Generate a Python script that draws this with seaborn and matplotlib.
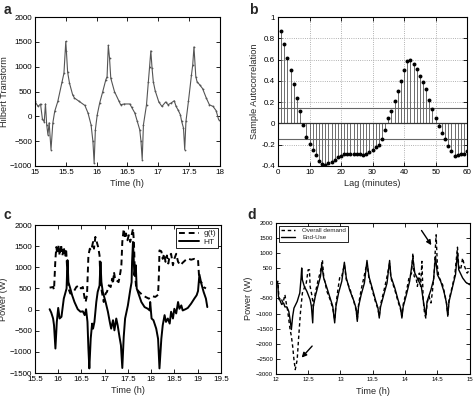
"""
Four-panel figure: Hilbert transform, autocorrelation, HT vs g(t), end-use vs overall demand.
"""

import matplotlib

matplotlib.use("Agg")
import matplotlib.pyplot as plt
import numpy as np
import seaborn as sns

# ---- panel a: Hilbert transform ----
a_time = [15.00, 15.05, 15.09, 15.12, 15.15, 15.17, 15.19, 15.21, 15.23, 15.26,
          15.29, 15.32, 15.37, 15.44, 15.47, 15.50, 15.51, 15.53, 15.56, 15.61,
          15.64, 15.72, 15.81, 15.86, 15.91, 15.94, 15.96, 15.98, 16.01, 16.05,
          16.10, 16.15, 16.17, 16.19, 16.21, 16.23, 16.29, 16.36, 16.39, 16.45,
          16.54, 16.57, 16.62, 16.66, 16.70, 16.72, 16.74, 16.76, 16.81, 16.84,
          16.86, 16.88, 16.90, 16.92, 16.95, 17.01, 17.06, 17.12, 17.16, 17.21,
          17.26, 17.29, 17.32, 17.36, 17.38, 17.41, 17.43, 17.45, 17.49, 17.54,
          17.56, 17.58, 17.61, 17.63, 17.67, 17.72, 17.78, 17.83, 17.89, 17.94,
          17.98]
a_hilbert = [300, 200, 250, -50, -110, 250, -170, -370, -130, -670,
             -130, 100, 300, 700, 870, 1510, 1310, 890, 670, 440,
             370, 300, 220, 70, -170, -500, -940, -270, 30, 270,
             500, 740, 800, 1430, 1170, 770, 500, 315, 235, 250,
             250, 180, 70, -100, -270, -500, -870, -170, 235, 700,
             1000, 1320, 970, 700, 520, 290, 200, 290, 235, 270,
             315, 200, 135, 30, -100, -235, -670, -100, 300, 840,
             1040, 1400, 800, 700, 640, 560, 370, 235, 200, 115,
             -65]

# ---- panel b: sample autocorrelation ----
b_lag = list(range(1, 61))
b_acf = [0.87, 0.75, 0.62, 0.50, 0.37, 0.24, 0.12, -0.01, -0.13, -0.19,
         -0.25, -0.30, -0.35, -0.385, -0.395, -0.37, -0.36, -0.34, -0.32, -0.31,
         -0.29, -0.29, -0.29, -0.29, -0.29, -0.29, -0.30, -0.285, -0.27, -0.25,
         -0.22, -0.20, -0.15, -0.065, 0.05, 0.12, 0.21, 0.31, 0.40, 0.50,
         0.59, 0.60, 0.555, 0.51, 0.45, 0.39, 0.32, 0.225, 0.14, 0.055,
         -0.02, -0.09, -0.15, -0.21, -0.26, -0.31, -0.295, -0.29, -0.285, -0.26]
b_bound = 0.147

# ---- panel c: g(t) and HT ----
c_ht_time = [15.815, 15.85, 15.89, 15.91, 15.94, 15.97, 16.00, 16.03, 16.07, 16.12,
             16.15, 16.18, 16.20, 16.22, 16.26, 16.30, 16.35, 16.42, 16.48, 16.53,
             16.57, 16.60, 16.63, 16.65, 16.67, 16.70, 16.73, 16.75, 16.78, 16.82,
             16.85, 16.89, 16.91, 16.93, 16.96, 17.02, 17.07, 17.11, 17.14, 17.18,
             17.21, 17.25, 17.28, 17.32, 17.35, 17.38, 17.41, 17.44, 17.50, 17.55,
             17.58, 17.59, 17.61, 17.64, 17.67, 17.69, 17.74, 17.79, 17.86, 17.93,
             17.97, 17.98, 18.01, 18.05, 18.11, 18.15, 18.18, 18.22, 18.25, 18.29,
             18.32, 18.36, 18.40, 18.43, 18.47, 18.50, 18.54, 18.58, 18.61, 18.65,
             18.68, 18.74, 18.79, 18.86, 18.93, 18.98, 19.01, 19.04, 19.08, 19.13,
             19.18, 19.21]
c_ht = [10, -70, -210, -370, -920, -290, 40, -210, -170, 260,
        380, 500, 1170, 650, 500, 340, 180, 10, -50, -40,
        -130, 10, -290, -920, -1390, -680, -330, -450, -290, 180,
        420, 570, 1130, 650, 420, 180, -50, -290, -450, -250,
        -490, -210, -370, -650, -840, -1380, -650, -210, 100, 460,
        650, 1130, 1600, 810, 1050, 500, 340, 180, 60, 20,
        -20, 180, -210, -250, -450, -690, -1390, -690, -370, -130,
        -290, -210, -330, -50, -210, 20, -90, 180, 20, 100,
        -20, 10, 40, 140, 260, 340, 440, 830, 620, 420,
        260, 60]

c_g_time = [15.815, 15.89, 15.91, 15.94, 15.96, 15.98, 16.01, 16.03, 16.06, 16.09,
            16.12, 16.15, 16.17, 16.20, 16.22, 16.26, 16.32, 16.39, 16.45, 16.49,
            16.53, 16.57, 16.59, 16.62, 16.65, 16.68, 16.71, 16.75, 16.77, 16.80,
            16.83, 16.86, 16.89, 16.91, 16.94, 16.98, 17.02, 17.05, 17.09, 17.13,
            17.16, 17.18, 17.20, 17.23, 17.26, 17.30, 17.34, 17.36, 17.38, 17.41,
            17.44, 17.46, 17.49, 17.52, 17.55, 17.58, 17.61, 17.63, 17.65, 17.68,
            17.74, 17.81, 17.88, 17.95, 18.02, 18.09, 18.15, 18.17, 18.18, 18.22,
            18.25, 18.28, 18.31, 18.34, 18.37, 18.40, 18.43, 18.47, 18.50, 18.54,
            18.58, 18.63, 18.68, 18.74, 18.79, 18.86, 18.93, 19.01, 19.04, 19.08,
            19.13, 19.18]
c_g = [520, 535, 470, 1200, 1480, 1320, 1520, 1280, 1540, 1280,
       1480, 1240, 1440, 810, 500, 380, 400, 535, 575, 500,
       535, 260, 180, 340, 1280, 1440, 1400, 1600, 1440, 1720,
       1600, 1480, 1280, 650, 420, 180, 380, 420, 575, 535,
       730, 610, 890, 690, 690, 650, 890, 1050, 1600, 1910,
       1680, 1800, 1640, 1760, 1600, 1760, 1910, 1600, 890, 500,
       420, 350, 300, 260, 320, 300, 350, 890, 1400, 1380,
       1200, 1320, 1130, 1280, 1090, 1280, 1320, 1050, 1200, 1320,
       1130, 1050, 1110, 1170, 1210, 1180, 1200, 1180, 650, 650,
       535, 500]

# ---- panel d: overall demand and end-use ----
d_end_time = [12.00, 12.03, 12.04, 12.07, 12.09, 12.12, 12.14, 12.17, 12.20, 12.22,
              12.24, 12.26, 12.28, 12.33, 12.37, 12.39, 12.40, 12.41, 12.44, 12.48,
              12.53, 12.55, 12.57, 12.58, 12.61, 12.65, 12.69, 12.71, 12.74, 12.79,
              12.84, 12.88, 12.91, 12.93, 12.97, 13.02, 13.06, 13.09, 13.14, 13.21,
              13.24, 13.26, 13.28, 13.32, 13.37, 13.41, 13.44, 13.49, 13.54, 13.58,
              13.60, 13.62, 13.67, 13.72, 13.76, 13.78, 13.84, 13.89, 13.93, 13.95,
              13.97, 14.02, 14.07, 14.12, 14.15, 14.20, 14.25, 14.29, 14.32, 14.34,
              14.40, 14.44, 14.47, 14.50, 14.55, 14.60, 14.64, 14.66, 14.68, 14.73,
              14.78, 14.81, 14.83, 14.89, 14.94, 15.00]
d_end_use = [70, 10, -430, -600, -700, -650, -780, -780, -930, -1200,
             -1530, -1090, -820, -600, -320, 180, 510, 120, -100, -265,
             -540, -760, -1310, -760, -430, -100, 230, 620, 180, -150,
             -490, -760, -1310, -760, -320, 70, 700, 180, -210, -600,
             -820, -1260, -760, -375, 10, 760, 230, -150, -540, -820,
             -1150, -780, -375, 10, 760, 230, -150, -540, -820, -1150,
             -780, -375, 70, 840, 340, 120, -100, -700, -1090, -600,
             -210, 120, 900, 290, 70, -265, -650, -1090, -600, -150,
             290, 1030, 450, 180, 35, -45]

d_all_time = [12.00, 12.03, 12.05, 12.08, 12.11, 12.14, 12.16, 12.18, 12.20, 12.22,
              12.24, 12.26, 12.28, 12.30, 12.33, 12.35, 12.38, 12.41, 12.44, 12.47,
              12.50, 12.52, 12.53, 12.56, 12.58, 12.61, 12.65, 12.69, 12.72, 12.74,
              12.79, 12.84, 12.88, 12.91, 12.93, 12.96, 12.99, 13.02, 13.06, 13.09,
              13.15, 13.21, 13.24, 13.26, 13.28, 13.32, 13.36, 13.41, 13.44, 13.49,
              13.54, 13.58, 13.60, 13.62, 13.67, 13.71, 13.76, 13.78, 13.84, 13.89,
              13.93, 13.95, 13.97, 14.02, 14.06, 14.10, 14.12, 14.14, 14.17, 14.19,
              14.22, 14.24, 14.26, 14.28, 14.30, 14.32, 14.34, 14.37, 14.40, 14.42,
              14.45, 14.47, 14.48, 14.50, 14.52, 14.58, 14.61, 14.64, 14.66, 14.68,
              14.73, 14.77, 14.81, 14.83, 14.86, 14.89, 14.92, 14.96, 15.00]
d_overall = [10, 70, -540, -490, -650, -375, -650, -870, -1200, -1530,
             -1750, -2090, -2530, -2860, -2530, -1870, -980, -320, -150, 10,
             450, 450, -100, -430, -760, -320, 70, 400, 780, 230,
             -265, -540, -820, -1200, -700, -210, 230, 230, 620, 120,
             -210, -630, -870, -1200, -700, -210, 180, 670, 180, -210,
             -600, -850, -1090, -700, -265, 120, 670, 180, -210, -600,
             -870, -1090, -700, -265, 180, 340, 1000, 230, 180, -100,
             340, -100, 730, -540, -980, -1150, -650, -430, -650, -320,
             340, 1230, 1610, 560, 230, -45, -320, -650, -1040, -540,
             -100, 290, 1200, 560, 450, 840, 560, 340, 450]

# ---- style ----
sns.set_style("ticks")
plt.rcParams["font.family"] = ["Liberation Sans", "DejaVu Sans"]
plt.rcParams.update({
    "xtick.direction": "in",
    "ytick.direction": "in",
    "xtick.top": True,
    "ytick.right": True,
    "xtick.major.size": 3,
    "ytick.major.size": 3,
    "xtick.major.width": 0.6,
    "ytick.major.width": 0.6,
    "axes.linewidth": 0.8,
    "axes.edgecolor": "black",
    "xtick.color": "black",
    "ytick.color": "black",
})

fig = plt.figure(figsize=(4.74, 3.99), dpi=100)
ax_a = fig.add_axes([0.0738, 0.584, 0.390, 0.373])
ax_b = fig.add_axes([0.5865, 0.584, 0.399, 0.373])
ax_c = fig.add_axes([0.0738, 0.065, 0.392, 0.371])
ax_d = fig.add_axes([0.582, 0.063, 0.409, 0.378])

LABEL = 6.6
TICK = 5.8

# a
sns.lineplot(x=a_time, y=a_hilbert, ax=ax_a, color="#555555", linewidth=0.8,
             sort=False, marker="o", markersize=1.3, markeredgewidth=0)
ax_a.set_xlim(15, 18)
ax_a.set_ylim(-1000, 2000)
ax_a.set_xticks([15, 15.5, 16, 16.5, 17, 17.5, 18])
ax_a.set_xticklabels(["15", "15.5", "16", "16.5", "17", "17.5", "18"])
ax_a.set_yticks(range(-1000, 2001, 500))
ax_a.set_xlabel("Time (h)", fontsize=LABEL, labelpad=2)
ax_a.set_ylabel("Hilbert Transform", fontsize=LABEL, labelpad=1)

# b
ax_b.vlines(b_lag, 0, b_acf, color="#555555", linewidth=0.6)
sns.scatterplot(x=b_lag, y=b_acf, ax=ax_b, color="black", s=8, linewidth=0, zorder=3)
ax_b.axhline(0, color="#333333", linewidth=0.9)
ax_b.axhline(b_bound, color="#666666", linewidth=0.8)
ax_b.axhline(-b_bound, color="#666666", linewidth=0.8)
ax_b.set_xlim(0, 60)
ax_b.set_ylim(-0.4, 1)
ax_b.set_xticks(range(0, 61, 10))
ax_b.set_yticks([-0.4, -0.2, 0, 0.2, 0.4, 0.6, 0.8, 1])
ax_b.set_yticklabels(["-0.4", "-0.2", "0", "0.2", "0.4", "0.6", "0.8", "1"])
ax_b.grid(True, linestyle=":", color="#999999", linewidth=0.6)
ax_b.set_axisbelow(True)
ax_b.set_xlabel("Lag (minutes)", fontsize=LABEL, labelpad=2)
ax_b.set_ylabel("Sample Autocorrelation", fontsize=LABEL, labelpad=2)

# c
sns.lineplot(x=c_g_time, y=c_g, ax=ax_c, color="black", linewidth=1.4,
             linestyle=(0, (3, 2)), sort=False, label="g(t)")
sns.lineplot(x=c_ht_time, y=c_ht, ax=ax_c, color="black", linewidth=1.4,
             sort=False, label="HT")
ax_c.set_xlim(15.5, 19.5)
ax_c.set_ylim(-1500, 2000)
ax_c.set_xticks(np.arange(15.5, 19.6, 0.5))
ax_c.set_xticklabels(["15.5", "16", "16.5", "17", "17.5", "18", "18.5", "19", "19.5"])
ax_c.set_yticks(range(-1500, 2001, 500))
ax_c.set_xlabel("Time (h)", fontsize=LABEL, labelpad=2)
ax_c.set_ylabel("Power (W)", fontsize=LABEL, labelpad=1)
leg_c = ax_c.legend(loc="upper right", fontsize=6, frameon=True, fancybox=False,
                    edgecolor="black", framealpha=1, handlelength=2.4, borderpad=0.25,
                    labelspacing=0.05, handletextpad=0.6, borderaxespad=0.3)
leg_c.get_frame().set_linewidth(0.6)

# d
sns.lineplot(x=d_all_time, y=d_overall, ax=ax_d, color="black", linewidth=1.0,
             linestyle=(0, (2.5, 2)), sort=False, label="Overall demand")
sns.lineplot(x=d_end_time, y=d_end_use, ax=ax_d, color="black", linewidth=1.0,
             sort=False, label="End-Use")
ax_d.set_xlim(12, 15)
ax_d.set_ylim(-3000, 2000)
ax_d.set_xticks([12, 12.5, 13, 13.5, 14, 14.5, 15])
ax_d.set_xticklabels(["12", "12.5", "13", "13.5", "14", "14.5", "15"])
ax_d.set_yticks(range(-3000, 2001, 500))
ax_d.tick_params(labelsize=4.3, pad=2)
ax_d.set_xlabel("Time (h)", fontsize=LABEL, labelpad=4)
ax_d.set_ylabel("Power (W)", fontsize=LABEL, labelpad=2)
leg_d = ax_d.legend(loc="upper left", fontsize=4.5, frameon=True, fancybox=False,
                    edgecolor="black", framealpha=1, handlelength=2.2, borderpad=0.3,
                    labelspacing=0.15, handletextpad=1.2, borderaxespad=0.5)
leg_d.get_frame().set_linewidth(0.6)
ax_d.annotate("", xy=(14.43, 1190), xytext=(14.23, 1830),
              arrowprops=dict(arrowstyle="-|>", color="black", lw=1.0,
                              mutation_scale=7))
ax_d.annotate("", xy=(12.37, -2530), xytext=(12.59, -2010),
              arrowprops=dict(arrowstyle="-|>", color="black", lw=1.0,
                              mutation_scale=7))

for ax in (ax_a, ax_b, ax_c):
    ax.tick_params(labelsize=TICK, pad=2)

for ax in (ax_a, ax_b, ax_c, ax_d):
    for side in ("top", "right", "left", "bottom"):
        ax.spines[side].set_visible(True)

fig.text(0.008, 0.965, "a", fontsize=10, fontweight="bold")
fig.text(0.525, 0.965, "b", fontsize=10, fontweight="bold")
fig.text(0.008, 0.45, "c", fontsize=10, fontweight="bold")
fig.text(0.522, 0.45, "d", fontsize=10, fontweight="bold")

fig.savefig("out.png", dpi=100)
